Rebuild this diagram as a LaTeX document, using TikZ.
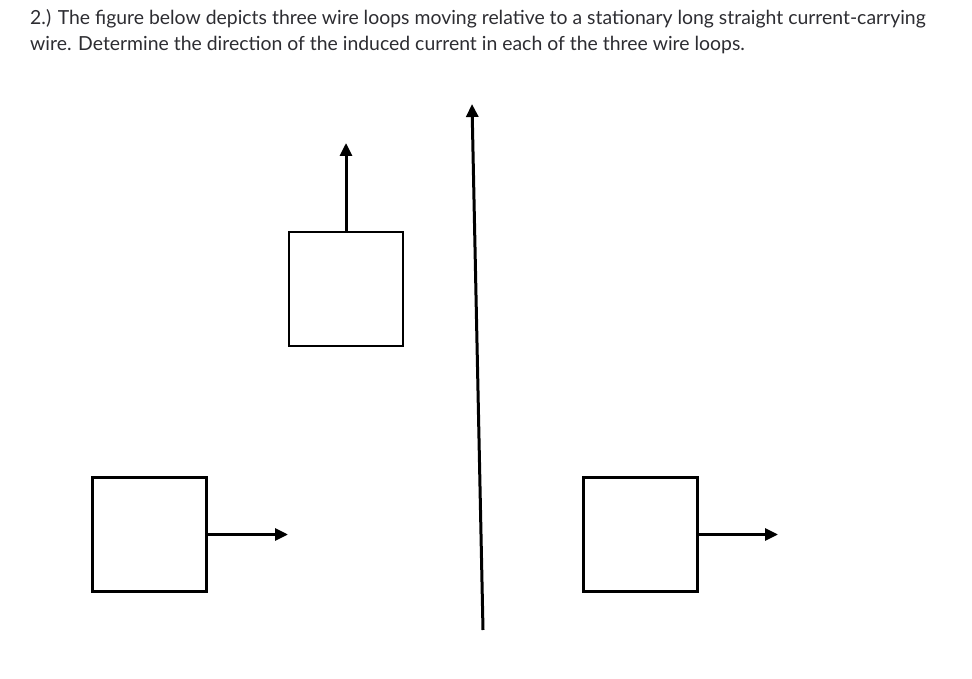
\documentclass[tikz,border=0pt]{standalone}
\usepackage{fontspec}
\setmainfont{Lato}
\usetikzlibrary{arrows.meta}
\definecolor{textgray}{RGB}{45,45,50}
\tikzset{
	loop/.style={draw, line width=2.6pt, minimum size=114pt, inner sep=0pt},
	motion/.style={line width=3pt, -{Triangle[length=13pt,width=12pt]}},
	question/.style={anchor=base west, text=textgray, inner sep=0pt, font=\fontsize{19.4}{25}\selectfont}
}
\begin{document}
\begin{tikzpicture}[x=1pt,y=-1pt]
	\path[use as bounding box, fill=white] (0,0) rectangle (972,679);
	\node[question] (lineone) at (30,25) {2.) The figure below depicts three wire loops moving relative to a stationary long straight current-carrying};
	\node[question] (linetwo) at (30,51) {wire. Determine the direction of the induced current in each of the three wire loops.};
	% stationary wire
	\coordinate (wirebot) at (483,630);
	\coordinate (wiretop) at (472,104);
	\draw[motion] (wirebot) -- (wiretop);
	% the three loops
	\node[loop] (looptop) at (346,289) {};
	\node[loop] (loopleft) at (149.5,534.5) {};
	\node[loop] (loopright) at (640.5,534.5) {};
	\coordinate (velup) at (346,143);
	\coordinate (velleft) at (288,534.5);
	\coordinate (velright) at (778,534.5);
	\draw[motion] (looptop.north) -- (velup);
	\draw[motion] (loopleft.east) -- (velleft);
	\draw[motion] (loopright.east) -- (velright);
\end{tikzpicture}
\end{document}
